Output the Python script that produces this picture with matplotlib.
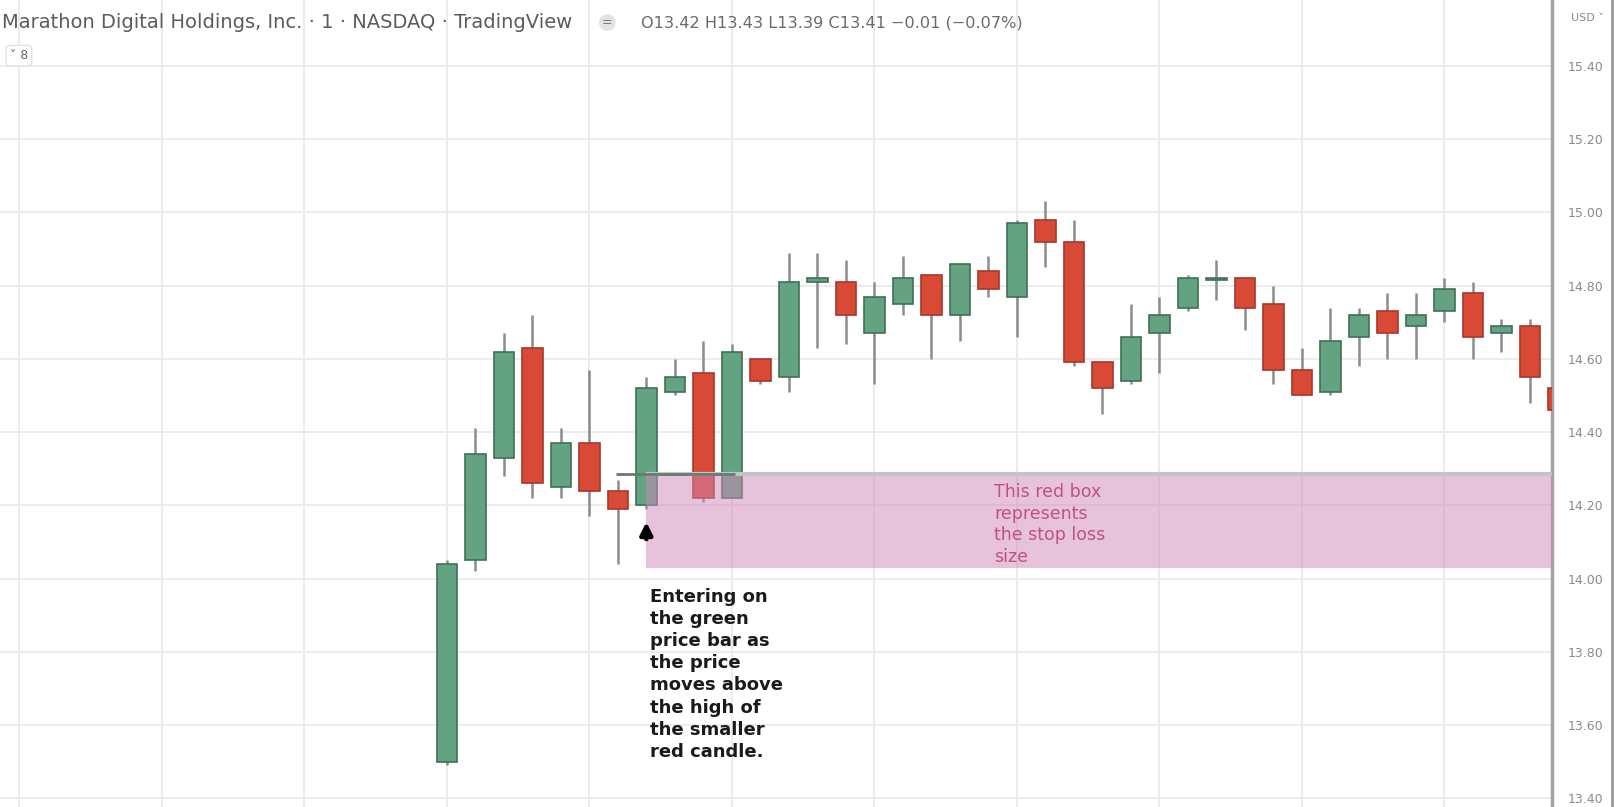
import matplotlib
matplotlib.use("Agg")
import matplotlib.pyplot as plt
import numpy as np

# one-minute candles
opens = [13.50, 14.05, 14.33, 14.63, 14.25, 14.37, 14.24, 14.20, 14.51, 14.56,
         14.22, 14.60, 14.55, 14.81, 14.81, 14.67, 14.75, 14.83, 14.72, 14.84,
         14.77, 14.98, 14.92, 14.59, 14.54, 14.67, 14.74, 14.815, 14.82, 14.75,
         14.57, 14.51, 14.66, 14.73, 14.69, 14.73, 14.78, 14.67, 14.69, 14.52]
highs = [14.05, 14.41, 14.67, 14.72, 14.41, 14.57, 14.27, 14.55, 14.60, 14.65,
         14.64, 14.60, 14.89, 14.89, 14.87, 14.81, 14.88, 14.83, 14.86, 14.88,
         14.98, 15.03, 14.98, 14.59, 14.75, 14.77, 14.83, 14.87, 14.82, 14.80,
         14.63, 14.74, 14.74, 14.78, 14.78, 14.82, 14.81, 14.71, 14.71, 14.52]
lows = [13.49, 14.02, 14.28, 14.22, 14.22, 14.17, 14.04, 14.19, 14.50, 14.21,
        14.22, 14.53, 14.51, 14.63, 14.64, 14.53, 14.72, 14.60, 14.65, 14.77,
        14.66, 14.85, 14.58, 14.45, 14.53, 14.56, 14.73, 14.76, 14.68, 14.53,
        14.50, 14.50, 14.58, 14.60, 14.60, 14.70, 14.60, 14.62, 14.48, 14.46]
closes = [14.04, 14.34, 14.62, 14.26, 14.37, 14.24, 14.19, 14.52, 14.55, 14.22,
          14.62, 14.54, 14.81, 14.82, 14.72, 14.77, 14.82, 14.72, 14.86, 14.79,
          14.97, 14.92, 14.59, 14.52, 14.66, 14.72, 14.82, 14.82, 14.74, 14.57,
          14.50, 14.65, 14.72, 14.67, 14.72, 14.79, 14.66, 14.69, 14.55, 14.46]

price_ticks = [13.40, 13.60, 13.80, 14.00, 14.20, 14.40, 14.60, 14.80, 15.00, 15.20, 15.40]

entry_idx = 7          # green entry candle
trigger_level = 14.285 # high of the small red candle
stop_low = 14.03

header = "Marathon Digital Holdings, Inc. · 1 · NASDAQ · TradingView"
ohlc_text = "O13.42 H13.43 L13.39 C13.41 \u22120.01 (\u22120.07%)"
entry_note = ("Entering on\nthe green\nprice bar as\nthe price\nmoves above\n"
              "the high of\nthe smaller\nred candle.")
box_note = "This red box\nrepresents\nthe stop loss\nsize"

green, green_edge = "#63a381", "#3f6f56"
red, red_edge = "#d84a36", "#a5372a"

fig = plt.figure(figsize=(16.15, 8.07), dpi=100)
ax = fig.add_axes([0, 0, 0.961, 1])

x = np.arange(len(opens))
o = np.array(opens)
c = np.array(closes)
up = c >= o
body_lo = np.minimum(o, c)
body_h = np.maximum(np.abs(c - o), 0.004)

ax.vlines(x, lows, highs, color="#8c8c8c", lw=1.8, zorder=2)
ax.bar(x[up], body_h[up], bottom=body_lo[up], width=0.72,
       color=green, edgecolor=green_edge, lw=1.2, zorder=3)
ax.bar(x[~up], body_h[~up], bottom=body_lo[~up], width=0.72,
       color=red, edgecolor=red_edge, lw=1.2, zorder=3)

# stop loss box
ax.fill_between([entry_idx, len(opens) + 5], stop_low, trigger_level,
                color="#d189b9", alpha=0.5, lw=0, zorder=4)
ax.hlines(trigger_level, entry_idx, len(opens) + 5, color="#c4c4c4", lw=3, zorder=4)
ax.hlines(trigger_level, entry_idx - 1.05, entry_idx + 3.1, color="#667a70", lw=2, zorder=5)

ax.annotate("", xy=(entry_idx, 14.162), xytext=(entry_idx, 14.10),
            arrowprops=dict(arrowstyle="-|>", lw=3.2, color="black",
                            mutation_scale=18), zorder=6)

ax.text(entry_idx + 0.12, 13.975, entry_note, fontsize=13, fontweight="bold",
        color="#1a1a1a", va="top", ha="left", linespacing=1.3, zorder=6)
ax.text(19.2, 14.262, box_note, fontsize=12.5, color="#c0527f",
        va="top", ha="left", linespacing=1.28, zorder=6)

ax.set_xlim(-15.68, 38.78)
ax.set_ylim(13.376, 15.58)
ax.set_xticks(np.arange(-15, 40, 5))
ax.set_yticks(price_ticks)
ax.grid(True, color="#ebebeb", lw=1.3, zorder=0)
ax.set_axisbelow(True)
ax.tick_params(axis="x", length=0, labelbottom=False)
ax.yaxis.tick_right()
ax.tick_params(axis="y", length=0, labelsize=9, labelcolor="#8a8a8a", pad=11)
ax.set_yticklabels([f"{p:.2f}" for p in price_ticks])
for side in ["left", "top", "bottom"]:
    ax.spines[side].set_visible(False)
ax.spines["right"].set_color("#a3a3a3")
ax.spines["right"].set_linewidth(2.5)

fig.text(0.001, 0.972, header, fontsize=14, color="#5c5c5c", va="center")
fig.text(0.376, 0.972, "=", fontsize=9, color="#777777", va="center", ha="center",
         bbox=dict(boxstyle="circle,pad=0.15", fc="#e3e3e3", ec="none"))
fig.text(0.397, 0.972, ohlc_text, fontsize=11.6, color="#6a6a6a", va="center")
fig.text(0.006, 0.931, "\u02c5 8", fontsize=9, color="#666666", va="center",
         bbox=dict(boxstyle="round,pad=0.3", fc="white", ec="#e2e2e2"))
fig.text(0.983, 0.978, "USD \u02c5", fontsize=8, color="#8a8a8a", va="center", ha="center")
fig.add_artist(plt.Line2D([0.998, 0.998], [0, 1], color="#9a9a9a", lw=2))

fig.savefig("out.png", dpi=100)
